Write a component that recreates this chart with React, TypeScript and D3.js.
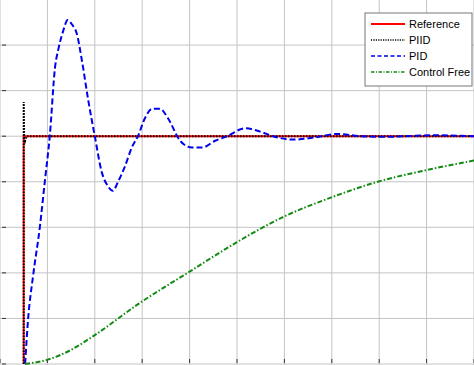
import React from "react";
import * as d3 from "d3";

const W = 474;
const H = 365;

const xTicks = [0, 1, 2, 3, 4, 5, 6, 7, 8, 9, 10];
const yTicks = [0, 0.2, 0.4, 0.6, 0.8, 1.0, 1.2, 1.4, 1.6];

const referenceT = [0.5, 0.5, 10];
const referenceV = [0, 1, 1];

const piidT = [0.5, 0.5, 0.51, 0.53, 0.56, 10];
const piidV = [0, 1.15, 1.0, 0.98, 1.0, 1.0];

const pidT = [0.53, 0.59, 0.7, 0.84, 0.95, 1.05, 1.16, 1.24, 1.33, 1.43, 1.52, 1.62, 1.73, 1.86, 2.0, 2.15, 2.28, 2.38, 2.49, 2.64, 2.78, 2.91, 3.06, 3.21, 3.38, 3.54, 3.8, 4.05, 4.26, 4.54, 4.79, 5.17, 5.49, 5.76, 6.18, 6.65, 7.11, 7.6, 8.12, 9.14, 10];
const pidV = [0, 0.19, 0.39, 0.6, 0.81, 1.0, 1.3, 1.39, 1.46, 1.51, 1.49, 1.45, 1.33, 1.16, 1.0, 0.84, 0.78, 0.76, 0.8, 0.87, 0.95, 1.0, 1.08, 1.12, 1.12, 1.08, 0.98, 0.95, 0.95, 0.98, 1.0, 1.035, 1.02, 1.0, 0.985, 0.995, 1.01, 1.0, 0.997, 1.004, 1.0];

const freeT = [0.53, 0.99, 1.48, 2.0, 2.95, 3.99, 5.0, 5.97, 7.0, 7.97, 8.99, 10];
const freeV = [0, 0.018, 0.06, 0.127, 0.268, 0.404, 0.535, 0.645, 0.732, 0.8, 0.851, 0.893];

const legendLabels = ["Reference", "PIID", "PID", "Control Free"];

export default function App() {
  const x = d3.scaleLinear().domain([0, 10]).range([0, 474]);
  const y = d3.scaleLinear().domain([0, 1.6]).range([364, -0.5]);

  const mk = (ts: number[], vs: number[]) => ts.map((t, i) => [t, vs[i]] as [number, number]);
  const linear = d3.line<[number, number]>().x((d) => x(d[0])).y((d) => y(d[1]));
  const smooth = d3
    .line<[number, number]>()
    .x((d) => x(d[0]))
    .y((d) => y(d[1]))
    .curve(d3.curveMonotoneX);

  const series = [
    { label: legendLabels[0], d: linear(mk(referenceT, referenceV)), color: "#ff0000", dash: "none", lg: "none" },
    { label: legendLabels[1], d: linear(mk(piidT, piidV)), color: "#000000", dash: "1.5,1.5", lg: "1.2,1.2" },
    { label: legendLabels[2], d: smooth(mk(pidT, pidV)), color: "#0000ee", dash: "6,3", lg: "4,2.5" },
    { label: legendLabels[3], d: smooth(mk(freeT, freeV)), color: "#138a13", dash: "5,2,1.5,2", lg: "3.5,1.5,1,1.5" },
  ];

  const lgX = 365;
  const lgY = 13;
  const lgW = 107;
  const lgH = 73;

  return (
    <div style={{ position: "absolute", left: 0, top: 0 }}>
      <svg width={W} height={H} style={{ display: "block", background: "#fff" }}>
        <g>
          {xTicks.map((t) => (
            <line key={"gx" + t} x1={x(t)} x2={x(t)} y1={0} y2={H} stroke="#c4c4c4" strokeWidth={1} />
          ))}
          {yTicks.map((t) => (
            <line key={"gy" + t} x1={0} x2={W} y1={y(t)} y2={y(t)} stroke="#c4c4c4" strokeWidth={1} />
          ))}
          {yTicks.map((t) => (
            <line key={"ty" + t} x1={2} x2={6} y1={y(t)} y2={y(t)} stroke="#333" strokeWidth={1} />
          ))}
          {xTicks.map((t) => (
            <line key={"tx" + t} x1={x(t)} x2={x(t)} y1={359} y2={363} stroke="#333" strokeWidth={1} />
          ))}
        </g>
        {series.map((s) => (
          <path
            key={s.label}
            d={s.d || ""}
            fill="none"
            stroke={s.color}
            strokeWidth={2}
            strokeDasharray={s.dash}
          />
        ))}
        <g>
          <rect x={lgX} y={lgY} width={lgW} height={lgH} fill="#fff" stroke="#777" strokeWidth={1} />
          {series.map((s, i) => (
            <g key={"lg" + s.label}>
              <line
                x1={371}
                x2={405}
                y1={24 + i * 16}
                y2={24 + i * 16}
                stroke={s.color}
                strokeWidth={s.dash === "none" ? 2 : 1.5}
                strokeDasharray={s.lg}
              />
              <text
                x={409}
                y={24 + i * 16}
                dy="0.36em"
                fontFamily="Liberation Sans, Arial, sans-serif"
                fontSize={11}
                fill="#000"
              >
                {s.label}
              </text>
            </g>
          ))}
        </g>
      </svg>
    </div>
  );
}
